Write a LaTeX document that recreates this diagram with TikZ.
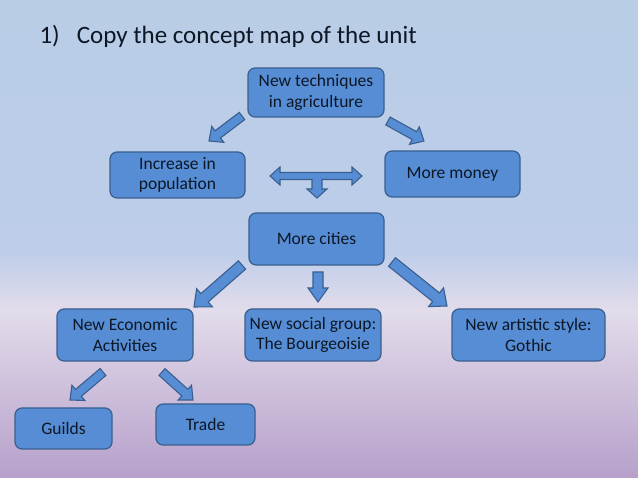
\documentclass[tikz,border=0pt]{standalone}
\usepackage{fontspec}
\setmainfont{Carlito}
\usetikzlibrary{calc}
\definecolor{boxfill}{HTML}{568DD4}
\definecolor{boxborder}{HTML}{3A5F8F}
\definecolor{txt}{HTML}{0D1726}
\definecolor{bgtop}{HTML}{B9CDE5}
\definecolor{bgblue}{HTML}{BDCDEA}
\definecolor{bglav}{HTML}{E2DCEB}
\definecolor{bgm1}{HTML}{CBBCD9}
\definecolor{bgbot}{HTML}{B6A0CB}
\pgfdeclareverticalshading{bgsh}{100bp}{color(0bp)=(bgbot); color(25bp)=(bgbot); color(33.16bp)=(bgm1); color(42.57bp)=(bglav); color(48.85bp)=(bgblue); color(75bp)=(bgtop); color(100bp)=(bgtop)}
\newcommand\barr[5]{%
  \draw[blockarr] let \p1=(#1), \p2=(#2), \n1={atan2(\y2-\y1,\x2-\x1)}, \n2={veclen(\x2-\x1,\y2-\y1)} in
    [shift={(\p1)}, rotate=\n1]
    (0pt,#3pt) -- ({\n2-#5pt},#3pt) -- ({\n2-#5pt},#4pt) -- ({\n2},0pt) -- ({\n2-#5pt},-#4pt) -- ({\n2-#5pt},-#3pt) -- (0pt,-#3pt) -- cycle;}
\begin{document}
\begin{tikzpicture}[x=1pt,y=-1pt,
  box/.style={draw=boxborder, fill=boxfill, line width=1.2pt, rounded corners=7pt,
    align=center, font=\fontsize{17.5}{20.5}\selectfont, text=txt, inner sep=0pt},
  blockarr/.style={draw=boxborder, fill=boxfill, line width=1.1pt, line join=miter}]
\shade[shading=bgsh] (0,0) rectangle (638,478);
\useasboundingbox (0,0) rectangle (638,478);
\node[anchor=base west, font=\fontsize{25}{30}\selectfont, text=txt] (title) at (36,44)
  {1)\hspace{17pt}Copy the concept map of the unit};
\node[box, minimum width=136, minimum height=49] (tech) at (316,92.5) {New techniques\\in agriculture};
\node[box, minimum width=135, minimum height=46] (pop) at (177.5,175) {Increase in\\population};
\node[box, minimum width=135, minimum height=46] (money) at (452.5,174) {More money};
\node[box, minimum width=135, minimum height=52] (cities) at (316.5,239) {More cities};
\node[box, minimum width=136, minimum height=52] (econ) at (125,335) {New Economic\\Activities};
\node[box, minimum width=136, minimum height=52] (social) at (313,335) {New social group:\\The Bourgeoisie};
\node[box, minimum width=153, minimum height=52] (art) at (528.5,335) {New artistic style:\\Gothic};
\node[box, minimum width=97, minimum height=41] (guilds) at (63.5,428.5) {Guilds};
\node[box, minimum width=99, minimum height=41] (trade) at (205.5,424.5) {Trade};
% arrow end points
\coordinate (a1s) at (242,116); \coordinate (a1e) at (209,141);
\coordinate (a2s) at (388,121); \coordinate (a2e) at (424,141);
\coordinate (a4s) at (318,272); \coordinate (a4e) at (318,302);
\coordinate (a5s) at (242,265); \coordinate (a5e) at (194,307);
\coordinate (a6s) at (392,262); \coordinate (a6e) at (447,306);
\coordinate (a7s) at (103,372); \coordinate (a7e) at (70,400);
\coordinate (a8s) at (162,372); \coordinate (a8e) at (193,400);
\barr{a1s}{a1e}{4.5}{10}{11}
\barr{a2s}{a2e}{4.5}{10}{11}
\barr{a4s}{a4e}{5}{10}{14}
\barr{a5s}{a5e}{5.5}{12}{14}
\barr{a6s}{a6e}{5.5}{12}{14}
\barr{a7s}{a7e}{4.5}{10}{11}
\barr{a8s}{a8e}{4.5}{10}{11}
% double arrow with downward branch
\draw[blockarr] (270,176) -- (280,167) -- (280,172.5) -- (352,172.5) -- (352,167) -- (362,176)
  -- (352,185) -- (352,179.5) -- (322,179.5) -- (322,189) -- (327,189) -- (317,198)
  -- (307,189) -- (312,189) -- (312,179.5) -- (280,179.5) -- (280,185) -- cycle;
\end{tikzpicture}
\end{document}
